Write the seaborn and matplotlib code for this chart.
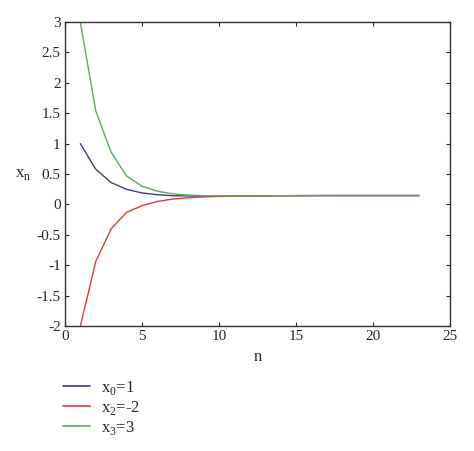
import matplotlib
matplotlib.use("Agg")
import matplotlib.pyplot as plt
import seaborn as sns
import pandas as pd

# iteration index and the three sequences
n_values = list(range(1, 24))
x0_series = [1.0, 0.58, 0.36, 0.25, 0.19, 0.16, 0.145, 0.14, 0.138, 0.138, 0.139, 0.14,
             0.142, 0.144, 0.145, 0.146, 0.147, 0.147, 0.147, 0.147, 0.147, 0.147, 0.147]
x2_series = [-2.0, -0.94, -0.40, -0.13, -0.02, 0.05, 0.09, 0.11, 0.125, 0.132, 0.136, 0.139,
             0.142, 0.144, 0.145, 0.146, 0.147, 0.147, 0.147, 0.147, 0.147, 0.147, 0.147]
x3_series = [3.0, 1.54, 0.86, 0.47, 0.30, 0.22, 0.175, 0.155, 0.145, 0.14, 0.14, 0.141,
             0.142, 0.144, 0.145, 0.146, 0.147, 0.147, 0.147, 0.147, 0.147, 0.147, 0.147]
series_labels = ["x$_0$=1", "x$_2$=-2", "x$_3$=3"]
series_colors = ["#3b3b98", "#d9403a", "#5eaa5a"]

x_ticks = [0, 5, 10, 15, 20, 25]
y_ticks = [-2, -1.5, -1, -0.5, 0, 0.5, 1, 1.5, 2, 2.5, 3]

df = pd.DataFrame({
    "n": n_values * 3,
    "value": x0_series + x2_series + x3_series,
    "series": [series_labels[0]] * len(n_values)
              + [series_labels[1]] * len(n_values)
              + [series_labels[2]] * len(n_values),
})

sns.set_theme(style="ticks")
plt.rcParams["font.family"] = ["Liberation Serif", "DejaVu Serif"]
plt.rcParams["mathtext.fontset"] = "custom"
plt.rcParams["mathtext.rm"] = "Liberation Serif"

fig = plt.figure(figsize=(4.74, 4.51), dpi=100)
ax = fig.add_axes([0.137, 0.277, 0.812, 0.674])

sns.lineplot(data=df, x="n", y="value", hue="series", palette=series_colors,
             linewidth=1.0, ax=ax, legend=True)

ax.set_xlim(0, 25)
ax.set_ylim(-2, 3)
ax.set_xticks(x_ticks)
ax.set_xticklabels([str(t) for t in x_ticks])
ax.set_yticks(y_ticks)
ax.set_yticklabels([f"{t:g}" for t in y_ticks])
ax.tick_params(direction="in", length=3, top=True, right=True, labelsize=11,
               labeltop=False, labelright=False, width=0.8, pad=3)
for spine in ax.spines.values():
    spine.set_visible(True)
    spine.set_linewidth(1.0)
    spine.set_color("#333333")

ax.set_xlabel("n", fontsize=12, labelpad=4)
ax.set_ylabel("x$_\\mathrm{n}$", fontsize=12, rotation=0)
ax.yaxis.set_label_coords(-0.11, 0.475)

leg = ax.legend(loc="upper left", bbox_to_anchor=(-0.005, -0.175), frameon=False,
                fontsize=12, handlelength=1.6, handletextpad=0.7,
                labelspacing=0.1, borderaxespad=0, borderpad=0)
for line in leg.get_lines():
    line.set_linewidth(1.2)

fig.savefig("out.png", dpi=100)
